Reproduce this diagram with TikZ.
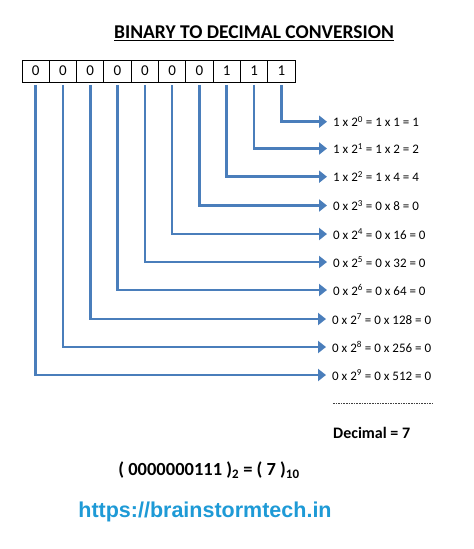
\documentclass[tikz,border=0pt]{standalone}
\usepackage{fontspec}
\setmainfont{Carlito}
\newfontfamily\urlfont{Liberation Sans}
\usetikzlibrary{arrows.meta}
\definecolor{arrowblue}{HTML}{4A7EBB}
\definecolor{linkblue}{HTML}{1E9AD6}
\begin{document}
\begin{tikzpicture}[x=1pt,y=-1pt,
  cell/.style={draw=black,line width=0.9pt,minimum width=27.3pt,minimum height=22pt,inner sep=0pt,font=\fontsize{15}{17}\selectfont},
  lbl/.style={anchor=west,inner sep=0pt,font=\fontsize{13}{15}\selectfont},
  conn/.style={draw=arrowblue,line width=2.6pt,shorten <=2.5pt,-{Triangle[length=8pt,width=12pt]}}]
\useasboundingbox (0,0) rectangle (474,549);
\node[font=\bfseries\fontsize{19.5}{21}\selectfont,inner sep=0pt] (title) at (254,33) {\underline{BINARY TO DECIMAL CONVERSION}};
\foreach \b [count=\i from 0] in {0,0,0,0,0,0,0,1,1,1}{
  \node[cell] (c\i) at ({35.65+27.3*\i},71) {\b};
}
\node[lbl] (l0) at (333,121.7) {1 x 2\textsuperscript{0} = 1 x 1 = 1};
\node[lbl] (l1) at (333,148.5) {1 x 2\textsuperscript{1} = 1 x 2 = 2};
\node[lbl] (l2) at (333,176.7) {1 x 2\textsuperscript{2} = 1 x 4 = 4};
\node[lbl] (l3) at (333,205.5) {0 x 2\textsuperscript{3} = 0 x 8 = 0};
\node[lbl] (l4) at (333,234) {0 x 2\textsuperscript{4} = 0 x 16 = 0};
\node[lbl] (l5) at (333,262) {0 x 2\textsuperscript{5} = 0 x 32 = 0};
\node[lbl] (l6) at (333,290) {0 x 2\textsuperscript{6} = 0 x 64 = 0};
\node[lbl] (l7) at (332,319) {0 x 2\textsuperscript{7} = 0 x 128 = 0};
\node[lbl] (l8) at (332,347) {0 x 2\textsuperscript{8} = 0 x 256 = 0};
\node[lbl] (l9) at (332,375) {0 x 2\textsuperscript{9} = 0 x 512 = 0};
\foreach \i [evaluate=\i as \j using int(9-\i)] in {0,...,9}{
  \draw[conn] (c\j.south) |- ([xshift=-6pt]l\i.west);
}
\coordinate (d1) at (333,403);
\coordinate (d2) at (433,403);
\draw[line width=0.6pt,dash pattern=on 1.6pt off 1pt,black!75] (d1) -- (d2);
\node[lbl,font=\bfseries\fontsize{16}{18}\selectfont] (dec) at (333,433) {Decimal = 7};
\node[inner sep=0pt,font=\bfseries\fontsize{18.5}{20}\selectfont] (eq) at (209,470) {( 0000000111 )\textsubscript{2} = ( 7 )\textsubscript{10}};
\node[inner sep=0pt,text=linkblue,font=\urlfont\bfseries\fontsize{21.5}{23}\selectfont] (url) at (205,512) {https://brainstormtech.in};
\end{tikzpicture}
\end{document}
